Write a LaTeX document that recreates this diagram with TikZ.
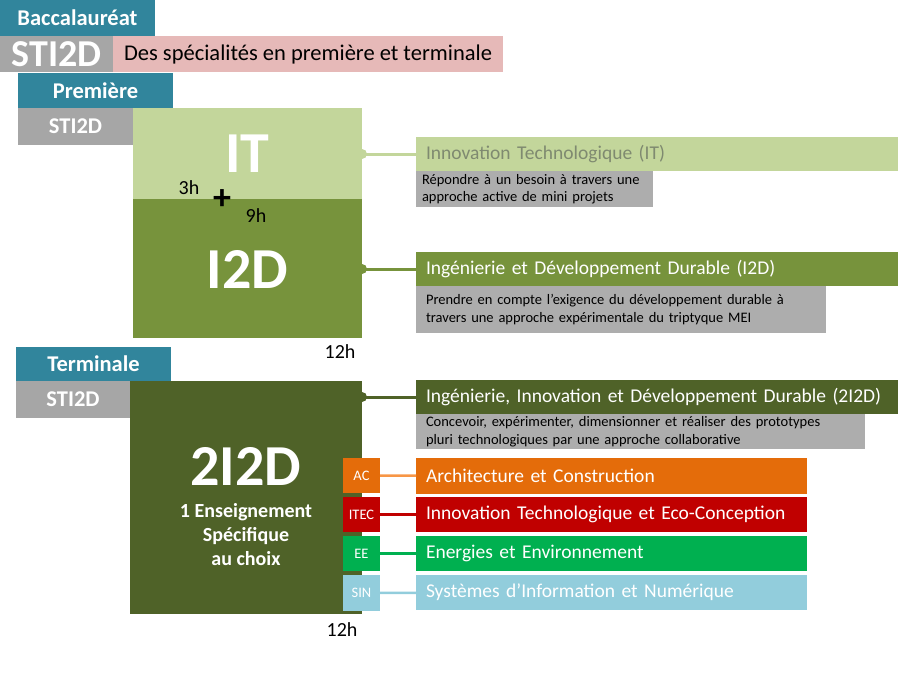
\documentclass[tikz,border=0pt]{standalone}
\usepackage{fontspec}
\setmainfont{Carlito}
\usetikzlibrary{arrows.meta, positioning}

\definecolor{cTeal}{HTML}{31859C}
\definecolor{cGray}{HTML}{A6A6A6}
\definecolor{cDesc}{HTML}{ADADAD}
\definecolor{cPink}{HTML}{E6B9B8}
\definecolor{cLight}{HTML}{C3D69B}
\definecolor{cMid}{HTML}{77933C}
\definecolor{cDark}{HTML}{4F6228}
\definecolor{cOrange}{HTML}{E46C0A}
\definecolor{cOrangeLn}{HTML}{F79646}
\definecolor{cRed}{HTML}{C00000}
\definecolor{cGreen}{HTML}{00B050}
\definecolor{cBlue}{HTML}{92CDDC}
\definecolor{cItText}{HTML}{7F8A70}

\begin{document}
\begin{tikzpicture}[
  x=1pt, y=-1pt,
  blk/.style={
    anchor=north west, inner sep=0pt, outer sep=0pt,
    text=white, font=\bfseries\fontsize{22.5}{24}\selectfont
  },
  bar/.style={
    anchor=north west, inner xsep=10pt, inner ysep=0pt, outer sep=0pt,
    minimum height=35pt, align=left, text=white,
    font=\fontsize{19.5}{21}\selectfont
  },
  desc/.style={
    anchor=north west, inner xsep=10pt, inner ysep=1pt, outer sep=0pt,
    fill=cDesc, align=left, font=\fontsize{14.5}{17.5}\selectfont
  },
  opt/.style={
    blk, minimum width=37pt, minimum height=35pt,
    font=\fontsize{14.5}{16}\selectfont
  },
  big/.style={text=white, font=\bfseries\fontsize{58}{60}\selectfont},
  hrs/.style={font=\fontsize{20}{22}\selectfont},
  link/.style={line width=3pt},
  sublink/.style={line width=2.5pt}
]
\useasboundingbox (0,0) rectangle (908,681);

% Header
\node[blk, fill=cTeal, minimum width=155pt, minimum height=36pt] (bac) at (0,0) {Baccalauréat};
\node[blk, fill=cGray, minimum width=113pt, minimum height=36pt,
  font=\bfseries\fontsize{38}{40}\selectfont] (sti) at (bac.south west) {STI2D};
\node[blk, fill=cPink, text=black, minimum width=390pt, minimum height=36pt,
  font=\fontsize{22.5}{24}\selectfont] (intro) at (sti.north east) {Des spécialités en première et terminale};

% Première
\node[blk, fill=cTeal, minimum width=155pt, minimum height=35pt] (prem) at (18,73) {Première};
\node[blk, fill=cGray, minimum width=115pt, minimum height=37pt] (psti) at (prem.south west) {STI2D};
\node[blk, fill=cLight, minimum width=229pt, minimum height=91pt] (it) at (psti.north east) {};
\node[blk, fill=cMid, minimum width=229pt, minimum height=139pt] (itd) at (it.south west) {};
\node[big] (itlbl) at (it.center) {IT};
\node[big] (itdlbl) at ([yshift=-1pt]itd.center) {I2D};
\node[hrs] (h3) at (189,188) {3h};
\node[font=\bfseries\fontsize{36}{36}\selectfont] (plus) at (222,200) {+};
\node[hrs] (h9) at (256,216) {9h};
\node[hrs] (h12a) at (340,352) {12h};

% Première bars
\node[bar, fill=cLight, text=cItText, text width=462pt, minimum height=34pt] (itbar) at (416,137) {Innovation Technologique (IT)};
\node[desc, inner xsep=6pt, text width=225pt, minimum height=36pt] (itdesc) at (itbar.south west)
  {Répondre à un besoin à travers une\\approche active de mini projets};
\node[bar, fill=cMid, text width=462pt, minimum height=34pt] (itdbar) at (416,252) {Ingénierie et Développement Durable (I2D)};
\node[desc, text width=390pt, minimum height=47pt] (itddesc) at (itdbar.south west)
  {Prendre en compte l’exigence du développement durable à\\travers une approche expérimentale du triptyque MEI};

\draw[link, cLight] (it.east |- itbar.west) -- (itbar.west);
\fill[cLight] (it.east |- itbar.west) circle (5pt);
\draw[link, cMid] (itd.east |- itdbar.west) -- (itdbar.west);
\fill[cMid] (itd.east |- itdbar.west) circle (5pt);

% Terminale
\node[blk, fill=cTeal, minimum width=155pt, minimum height=34pt] (term) at (16,347) {Terminale};
\node[blk, fill=cGray, minimum width=114pt, minimum height=37pt] (tsti) at (term.south west) {STI2D};
\node[blk, fill=cDark, minimum width=232pt, minimum height=233pt] (tt) at (130,381) {};
\node[big] (ttlbl) at (246,466) {2I2D};
\node[text=white, align=center, font=\bfseries\fontsize{20}{24}\selectfont] (ttsub) at (246,535)
  {1 Enseignement\\Spécifique\\au choix};
\node[hrs] (h12b) at (342,630) {12h};

% Terminale bars
\node[bar, fill=cDark, text width=462pt, minimum height=34pt] (ttbar) at (416,380) {Ingénierie, Innovation et Développement Durable (2I2D)};
\node[desc, text width=429pt, minimum height=35pt] (ttdesc) at (ttbar.south west)
  {Concevoir, expérimenter, dimensionner et réaliser des prototypes\\pluri technologiques par une approche collaborative};
\draw[link, cDark] (tt.east |- ttbar.west) -- (ttbar.west);
\fill[cDark] (tt.east |- ttbar.west) circle (5pt);

% Spécialités
\node[opt, fill=cOrange] (ac) at (343,458) {AC};
\node[opt, fill=cRed] (itec) at (343,497) {ITEC};
\node[opt, fill=cGreen] (ee) at (343,536) {EE};
\node[opt, fill=cBlue, minimum height=36pt] (sin) at (343,575) {SIN};

\node[bar, fill=cOrange, text width=371pt, minimum height=36pt] (acbar) at (416,458) {Architecture et Construction};
\node[bar, fill=cRed, text width=371pt] (itecbar) at (416,497) {Innovation Technologique et Eco-Conception};
\node[bar, fill=cGreen, text width=371pt] (eebar) at (416,536) {Energies et Environnement};
\node[bar, fill=cBlue, text width=371pt] (sinbar) at (416,575) {Systèmes d’Information et Numérique};

\draw[sublink, cOrangeLn] (ac) -- (acbar);
\draw[sublink, cRed] (itec) -- (itecbar);
\draw[sublink, cGreen] (ee) -- (eebar);
\draw[sublink, cBlue] (sin) -- (sinbar);

\end{tikzpicture}
\end{document}
